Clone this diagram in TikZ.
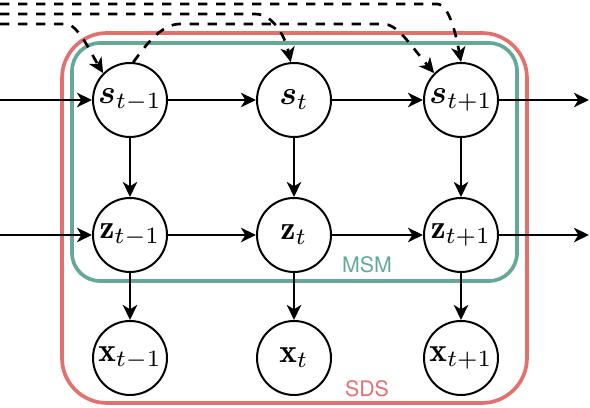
\documentclass[tikz,border=0pt]{standalone}
\usepackage{amsmath}
\usepackage{fontspec}
\newfontfamily\labelfont{TeX Gyre Heros}
\usetikzlibrary{arrows.meta}
\definecolor{msmcol}{RGB}{100,168,152}
\definecolor{sdscol}{RGB}{228,112,110}
\begin{document}
\begin{tikzpicture}[x=0.3pt,y=-0.3pt,
  var/.style={circle,draw,line width=0.6pt,minimum size=22.2pt,inner sep=0pt,fill=white},
  arr/.style={line width=0.8pt,-{Stealth[length=4.5pt,width=4.3pt,inset=1.3pt]}},
  darr/.style={arr,dash pattern=on 2.8pt off 2.6pt},
  box/.style={line width=1.1pt,rounded corners=#1},
  lab/.style={font=\labelfont\fontsize{6.4}{7}\selectfont,anchor=base}]
\useasboundingbox (0,0) rectangle (590,408);
% boxes
\draw[box=13.5pt,sdscol] (62,33) rectangle (527,403);
\draw[box=8.4pt,msmcol] (72,43) rectangle (517,281);
\node[lab,text=msmcol] (msm) at (367,273) {MSM};
\node[lab,text=sdscol] (sds) at (367,397) {SDS};
% nodes
\node[var] (s1) at (130,100) {$\boldsymbol{s}_{t-1}$};
\node[var] (s2) at (294,100) {$\boldsymbol{s}_{t}$};
\node[var] (s3) at (461,100) {$\boldsymbol{s}_{t+1}$};
\node[var] (z1) at (130,235) {$\mathbf{z}_{t-1}$};
\node[var] (z2) at (294,235) {$\mathbf{z}_{t}$};
\node[var] (z3) at (461,235) {$\mathbf{z}_{t+1}$};
\node[var] (x1) at (130,358) {$\mathbf{x}_{t-1}$};
\node[var] (x2) at (294,358) {$\mathbf{x}_{t}$};
\node[var] (x3) at (461,358) {$\mathbf{x}_{t+1}$};
\coordinate (sin) at (0,100);
\coordinate (sout) at (589,100);
\coordinate (zin) at (0,235);
\coordinate (zout) at (589,235);
% solid arrows
\draw[arr] (sin) -- (s1);
\draw[arr] (s1) -- (s2);
\draw[arr] (s2) -- (s3);
\draw[arr] (s3) -- (sout);
\draw[arr] (zin) -- (z1);
\draw[arr] (z1) -- (z2);
\draw[arr] (z2) -- (z3);
\draw[arr] (z3) -- (zout);
\foreach \i in {1,2,3}{
  \draw[arr] (s\i) -- (z\i);
  \draw[arr] (z\i) -- (x\i);
}
% dashed arrows
\coordinate (da) at (0,24);
\coordinate (db) at (0,14);
\coordinate (dc) at (0,4);
\draw[darr] (da) -- (66,24) .. controls (78,24) and (92,55) .. (s1.135);
\draw[darr] (db) -- (255,14) .. controls (275,14) and (286,40) .. (s2.95);
\draw[darr] (dc) -- (437,4) .. controls (450,4) and (457,40) .. (s3.north);
\draw[darr] (s1.85) .. controls (144,48) and (160,24) .. (180,24) -- (383,24) .. controls (397,24) and (408,42) .. (s3.135);
\end{tikzpicture}
\end{document}
